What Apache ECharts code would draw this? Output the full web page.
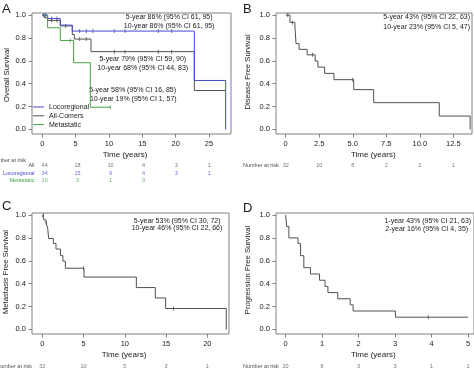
<!DOCTYPE html>
<html><head><meta charset="utf-8">
<script src="https://cdn.jsdelivr.net/npm/echarts@6/dist/echarts.min.js"></script>
<style>html,body{margin:0;padding:0;background:#fff}#c{width:474px;height:369px}</style>
</head><body><div id="c"></div>
<script>
// ---------------- DATA ----------------
// Panel A: Overall survival (time in years, survival fraction)
const osAllTime   = [0, 0.3, 0.8, 2.7, 4.5, 4.8, 7.3, 22.8, 27.5];
const osAllSurv   = [1.0, 0.977, 0.953, 0.905, 0.83, 0.79, 0.68, 0.34, 0.34];
const osLocoTime  = [0, 0.8, 2.7, 4.5, 22.8, 27.5];
const osLocoSurv  = [1.0, 0.97, 0.912, 0.86, 0.428, 0.0];
const osMetaTime  = [0, 0.8, 2.7, 4.7, 7.2, 10.2];
const osMetaSurv  = [1.0, 0.889, 0.778, 0.583, 0.194, 0.194];
const osLocoCensor = [[0.2, 1.0], [0.5, 1.0], [1.4, 0.97], [2.2, 0.97], [5.6, 0.86], [6.6, 0.86], [7.6, 0.86], [10.8, 0.86], [12.4, 0.86], [17.4, 0.86], [19.4, 0.86]];
const osAllCensor  = [[1.4, 0.953], [2.2, 0.953], [3.5, 0.905], [5.6, 0.79], [6.6, 0.79], [10.8, 0.68], [12.4, 0.68], [17.4, 0.68], [19.4, 0.68]];
const osMetaCensor = [[4.2, 0.778], [10.2, 0.194]];
const osTicks      = [0, 5, 10, 15, 20, 25];
const osRiskRows   = ['All', 'Locoregional', 'Metastatic'];
const osRiskAll    = [44, 18, 10, 4, 3, 1];
const osRiskLoco   = [34, 15, 9, 4, 3, 1];
const osRiskMeta   = [10, 3, 1, 0];
const osLegend     = ['Locoregional', 'All-Comers', 'Metastatic'];

// Panel B: Disease free survival
const dfsTime  = [0, 0.32, 0.69, 0.77, 1.0, 1.6, 2.2, 2.4, 2.9, 3.6, 5.07, 6.56, 11.45, 13.75];
const dfsSurv  = [1.0, 0.936, 0.895, 0.75, 0.70, 0.652, 0.598, 0.545, 0.49, 0.435, 0.348, 0.234, 0.117, 0.0];
const dfsCensor = [[0.15, 1.0], [0.5, 0.936], [2.0, 0.652], [5.0, 0.435]];
const dfsTicks = [0, 2.5, 5, 7.5, 10, 12.5];
const dfsTickLabels = ['0', '2.5', '5.0', '7.5', '10.0', '12.5'];
const dfsRisk  = [32, 10, 8, 2, 2, 1];

// Panel C: Metastasis free survival
const mfsTime  = [0, 0.2, 0.45, 0.65, 0.77, 1.34, 1.66, 2.2, 2.5, 2.8, 5.05, 11.4, 13.7, 14.95, 22.3];
const mfsSurv  = [1.0, 0.957, 0.93, 0.887, 0.795, 0.752, 0.703, 0.645, 0.597, 0.535, 0.458, 0.366, 0.275, 0.183, 0.0];
const mfsCensor = [[0.15, 1.0], [0.5, 0.93], [5.0, 0.535], [15.9, 0.183]];
const mfsTicks = [0, 5, 10, 15, 20];
const mfsRisk  = [32, 10, 5, 3, 1];

// Panel D: Progression free survival
const pfsTime  = [0, 0.03, 0.09, 0.34, 0.41, 0.5, 0.68, 0.93, 1.08, 1.16, 1.43, 1.77, 1.85, 3.01, 5.0];
const pfsSurv  = [1.0, 0.9, 0.8, 0.75, 0.645, 0.54, 0.485, 0.43, 0.376, 0.322, 0.268, 0.215, 0.161, 0.107, 0.107];
const pfsCensor = [[3.91, 0.107]];
const pfsTicks = [0, 1, 2, 3, 4, 5];
const pfsRisk  = [20, 8, 3, 3, 1, 1];

const yTicks = [0, 0.2, 0.4, 0.6, 0.8, 1.0];
const yTickLabels = ['0.0', '0.2', '0.4', '0.6', '0.8', '1.0'];

const panelLetters = ['A', 'B', 'C', 'D'];
const yTitles = ['Overall Survival', 'Disease Free Survival', 'Metastasis Free Survival', 'Progression Free Survival'];
const xTitle = 'Time (years)';
const riskTitle = 'Number at risk';
const annA = ['5-year 86% (95% CI 61, 95)', '10-year 86% (95% CI 61, 95)', '5-year 79% (95% CI 59, 90)', '10-year 68% (95% CI 44, 83)', '5-year 58% (95% CI 16, 85)', '10-year 19% (95% CI 1, 57)'];
const annB = ['5-year 43% (95% CI 22, 63)', '10-year 23% (95% CI 5, 47)'];
const annC = ['5-year 53% (95% CI 30, 72)', '10-year 46% (95% CI 22, 66)'];
const annD = ['1-year 43% (95% CI 21, 63)', '2-year 16% (95% CI 4, 35)'];

// ---------------- STYLE / LAYOUT ----------------
const FONT = 'Liberation Sans, Arial, Helvetica, sans-serif';
const BLUE = '#4a4acc', GREEN = '#46a046', DARK = '#505050', BOX = '#808080', TXT = '#1a1a1a';
const YMIN = -0.04, YMAX = 1.018;

const plotGrids = [
  {left: 32, top: 13, width: 199, height: 121, xmin: -1.545, xmax: 28.3},
  {left: 276, top: 13, width: 196, height: 121, xmin: -0.723, xmax: 13.89},
  {left: 32, top: 213, width: 197, height: 121, xmin: -1.248, xmax: 22.63},
  {left: 276, top: 213, width: 200, height: 121, xmin: -0.263, xmax: 5.163}
];
const riskGrids = [
  {top: 162, height: 22},
  {top: 162, height: 7.4},
  {top: 363, height: 7.4},
  {top: 363, height: 7.4}
];
const tickSets = [osTicks, dfsTicks, mfsTicks, pfsTicks];
const tickLabelFns = [
  v => String(v),
  v => dfsTickLabels[dfsTicks.indexOf(v)] ?? String(v),
  v => String(v),
  v => String(v)
];

const grid = [], xAxis = [], yAxis = [], series = [];
plotGrids.forEach((g, i) => {
  grid.push({left: g.left, top: g.top, width: g.width, height: g.height, show: true,
    borderColor: BOX, borderWidth: 1, backgroundColor: 'transparent', containLabel: false});
  xAxis.push({type: 'value', gridIndex: i, min: g.xmin, max: g.xmax,
    axisLine: {show: false, onZero: false}, splitLine: {show: false},
    axisTick: {show: true, inside: false, length: 3.5, customValues: tickSets[i], lineStyle: {color: BOX}},
    axisLabel: {show: true, customValues: tickSets[i], formatter: tickLabelFns[i], margin: 6,
      fontSize: 7.5, color: TXT, fontFamily: FONT, showMinLabel: true, showMaxLabel: true}});
  yAxis.push({type: 'value', gridIndex: i, min: YMIN, max: YMAX,
    axisLine: {show: false, onZero: false}, splitLine: {show: false},
    axisTick: {show: true, inside: false, length: 3.5, customValues: yTicks, lineStyle: {color: BOX}},
    axisLabel: {show: true, customValues: yTicks, formatter: v => yTickLabels[yTicks.indexOf(Math.round(v * 10) / 10)],
      margin: 6, fontSize: 7.5, color: TXT, fontFamily: FONT}});
});
riskGrids.forEach((r, i) => {
  const g = plotGrids[i];
  grid.push({left: g.left, top: r.top, width: g.width, height: r.height, show: false});
  xAxis.push({type: 'value', gridIndex: 4 + i, min: g.xmin, max: g.xmax, show: false});
  const rows = i === 0 ? osRiskRows : ['risk'];
  yAxis.push({type: 'category', gridIndex: 4 + i, data: rows, inverse: true, show: i === 0,
    axisLine: {show: false}, axisTick: {show: false}, splitLine: {show: false},
    axisLabel: {show: i === 0, interval: 0, hideOverlap: false, margin: 0, fontSize: 5.5, fontFamily: FONT,
      formatter: v => '{' + (v === 'All' ? 'a' : v === 'Locoregional' ? 'l' : 'm') + '|' + v + '}',
      rich: {a: {color: DARK, fontSize: 5.5, fontFamily: FONT}, l: {color: BLUE, fontSize: 5.5, fontFamily: FONT}, m: {color: GREEN, fontSize: 5.5, fontFamily: FONT}}}});
});

function stepLine(name, idx, T, S, color) {
  return {type: 'line', name, xAxisIndex: idx, yAxisIndex: idx, step: 'end', showSymbol: false, symbol: 'none',
    data: T.map((t, k) => [t, S[k]]), lineStyle: {color, width: 1}, itemStyle: {color}, animation: false, z: 3};
}
function censor(name, idx, pts, color) {
  return {type: 'scatter', name, xAxisIndex: idx, yAxisIndex: idx, data: pts, symbol: 'rect', symbolSize: [1, 4],
    itemStyle: {color}, silent: true, animation: false, z: 4};
}
function risk(idx, ticks, counts, row, color) {
  return {type: 'scatter', xAxisIndex: 4 + idx, yAxisIndex: 4 + idx, symbolSize: 0, silent: true, animation: false,
    data: counts.map((n, k) => [ticks[k], row, n]),
    label: {show: true, position: 'inside', formatter: p => String(p.value[2]), color, fontSize: 5.5, fontFamily: FONT}};
}

series.push(stepLine('All-Comers', 0, osAllTime, osAllSurv, DARK));
series.push(stepLine('Locoregional', 0, osLocoTime, osLocoSurv, BLUE));
series.push(stepLine('Metastatic', 0, osMetaTime, osMetaSurv, GREEN));
series.push(censor('c-all', 0, osAllCensor, DARK));
series.push(censor('c-loco', 0, osLocoCensor, BLUE));
series.push(censor('c-meta', 0, osMetaCensor, GREEN));
series.push(stepLine('DFS', 1, dfsTime, dfsSurv, DARK));
series.push(censor('c-dfs', 1, dfsCensor, DARK));
series.push(stepLine('MFS', 2, mfsTime, mfsSurv, DARK));
series.push(censor('c-mfs', 2, mfsCensor, DARK));
series.push(stepLine('PFS', 3, pfsTime, pfsSurv, DARK));
series.push(censor('c-pfs', 3, pfsCensor, DARK));

series.push(risk(0, osTicks, osRiskAll, 'All', DARK));
series.push(risk(0, osTicks, osRiskLoco, 'Locoregional', BLUE));
series.push(risk(0, osTicks, osRiskMeta, 'Metastatic', GREEN));
series.push(risk(1, dfsTicks, dfsRisk, 'risk', DARK));
series.push(risk(2, mfsTicks, mfsRisk, 'risk', DARK));
series.push(risk(3, pfsTicks, pfsRisk, 'risk', DARK));

// text graphics
const gtext = (text, x, y, opts) => Object.assign({type: 'text', x, y, silent: true,
  style: Object.assign({text, fill: TXT, font: (opts && opts.fs || 7) + 'px ' + FONT, textAlign: 'center', textVerticalAlign: 'middle'}, opts && opts.style)},
  opts && opts.extra);
const graphic = [];
const letterPos = [[2, 3], [243, 3], [2, 200], [243, 202]];
panelLetters.forEach((l, i) => graphic.push(gtext(l, letterPos[i][0], letterPos[i][1], {fs: 13, style: {textAlign: 'left', textVerticalAlign: 'top'}})));
const yTitlePos = [[6.7, 75], [248.3, 72], [5.7, 272], [248.3, 270]];
yTitles.forEach((t, i) => graphic.push(gtext(t, yTitlePos[i][0], yTitlePos[i][1], {fs: 7.7, extra: {rotation: Math.PI / 2}})));
const xTitlePos = [[125, 155], [373.3, 155], [124, 355], [373.3, 355]];
xTitlePos.forEach(p => graphic.push(gtext(xTitle, p[0], p[1], {fs: 8})));
const annAPos = [[169.2, 16.7], [169.2, 25.7], [142.8, 59.3], [142.8, 67.7], [132.7, 90], [133.3, 99.3]];
annA.forEach((t, i) => graphic.push(gtext(t, annAPos[i][0], annAPos[i][1])));
const annBPos = [[470, 16.7], [470, 26.7]];
annB.forEach((t, i) => graphic.push(gtext(t, annBPos[i][0], annBPos[i][1], {style: {textAlign: 'right'}})));
const annCPos = [[177.2, 220.7], [177, 228.3]];
annC.forEach((t, i) => graphic.push(gtext(t, annCPos[i][0], annCPos[i][1])));
const annDPos = [[427.8, 220.7], [426.7, 229]];
annD.forEach((t, i) => graphic.push(gtext(t, annDPos[i][0], annDPos[i][1])));
graphic.push(gtext(riskTitle, 26, 160, {fs: 5.5, style: {textAlign: 'right', fill: DARK}}));
graphic.push(gtext(riskTitle, 243, 165.7, {fs: 5.5, style: {textAlign: 'left', fill: DARK}}));
graphic.push(gtext(riskTitle, 32, 366.7, {fs: 5.5, style: {textAlign: 'right', fill: DARK}}));
graphic.push(gtext(riskTitle, 243, 366.7, {fs: 5.5, style: {textAlign: 'left', fill: DARK}}));

const chart = echarts.init(document.getElementById('c'), null, {renderer: 'canvas'});
chart.setOption({
  animation: false,
  backgroundColor: '#fff',
  textStyle: {fontFamily: FONT},
  grid, xAxis, yAxis, series, graphic,
  legend: {data: osLegend, orient: 'vertical', left: 33, top: 103, icon: 'rect', itemWidth: 11, itemHeight: 1,
    itemGap: 0.8, padding: 0, selectedMode: false,
    textStyle: {fontSize: 7, color: TXT, fontFamily: FONT, lineHeight: 8}}
});
</script>
</body></html>
